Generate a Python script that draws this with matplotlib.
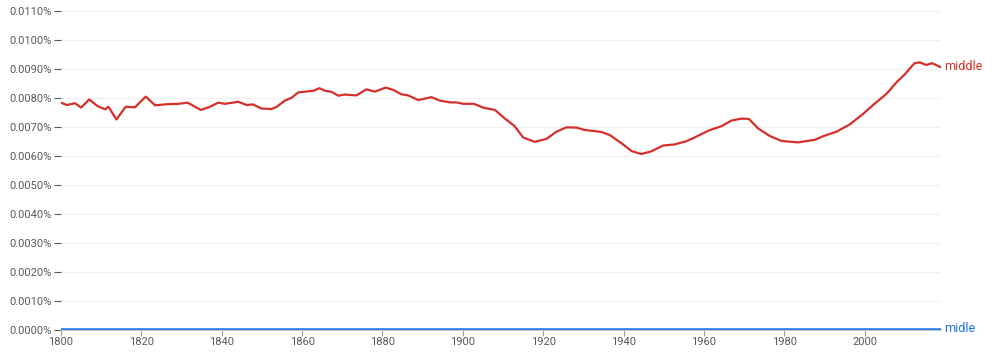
import matplotlib
matplotlib.use("Agg")
import matplotlib.pyplot as plt
from matplotlib.ticker import FuncFormatter, FixedLocator

plt.rcParams['font.family'] = ['Roboto', 'DejaVu Sans']

# Data (values in percent)
middle_years = [1800, 1801.4, 1803.5, 1805, 1807, 1809.1, 1811, 1811.8, 1813.8, 1816.1,
                1818.4, 1821.1, 1823.4, 1826.7, 1829.2, 1831.5, 1834.8, 1837.1, 1839.1,
                1840.8, 1844.1, 1846.2, 1847.8, 1849.8, 1852.4, 1853.7, 1855.7, 1857.4,
                1859, 1860.7, 1862.8, 1864.3, 1865.7, 1867.4, 1869, 1870.6, 1873.5, 1876,
                1878.1, 1880.8, 1882.7, 1884.7, 1886.4, 1888.9, 1892.2, 1894.3, 1896.8,
                1898.4, 1900.1, 1902.7, 1905.3, 1908, 1910.4, 1912.9, 1915, 1917.9,
                1920.8, 1923.3, 1925.8, 1928.3, 1930.3, 1934.5, 1936.6, 1939.5, 1942,
                1944.4, 1946.9, 1949.8, 1952.7, 1955.6, 1957.7, 1960, 1961.4, 1964.4,
                1966.8, 1969.3, 1971.2, 1973.5, 1976.4, 1979.3, 1983.4, 1987.6, 1990,
                1993, 1996.3, 1999.6, 2002.1, 2005.4, 2007.9, 2010, 2012.4, 2013.7,
                2015.3, 2016.8, 2018.7, 2019]
middle_vals = [0.00784, 0.00776, 0.00782, 0.00767, 0.00795, 0.00772, 0.00761, 0.00770,
               0.00726, 0.00770, 0.00768, 0.00805, 0.00775, 0.00779, 0.00780, 0.00784,
               0.00759, 0.00770, 0.00784, 0.00780, 0.00787, 0.00776, 0.00778, 0.00764,
               0.00762, 0.00770, 0.00791, 0.00801, 0.00819, 0.00822, 0.00825, 0.00834,
               0.00825, 0.00821, 0.00808, 0.00812, 0.00809, 0.00830, 0.00822, 0.00836,
               0.00828, 0.00813, 0.00809, 0.00793, 0.00803, 0.00791, 0.00785, 0.00785,
               0.00780, 0.00780, 0.00766, 0.00759, 0.00730, 0.00703, 0.00664, 0.00649,
               0.00659, 0.00684, 0.00699, 0.00698, 0.00690, 0.00683, 0.00672, 0.00644,
               0.00617, 0.00607, 0.00616, 0.00636, 0.00640, 0.00651, 0.00664, 0.00680,
               0.00689, 0.00703, 0.00722, 0.00729, 0.00728, 0.00695, 0.00669, 0.00652,
               0.00647, 0.00656, 0.00670, 0.00684, 0.00709, 0.00745, 0.00776, 0.00814,
               0.00854, 0.00882, 0.00920, 0.00923, 0.00914, 0.00920, 0.00908, 0.00906]

midle_years = [1800, 1850, 1900, 1950, 2000, 2019]
midle_vals = [0.00002, 0.00002, 0.00002, 0.00002, 0.00002, 0.00002]

red = '#d62f2a'
blue = '#1a73e8'
grey = '#555a60'

fig = plt.figure(figsize=(10, 3.56), dpi=100)
ax = fig.add_axes([0.061, 0.073, 0.880, 0.896])

ax.plot(middle_years, middle_vals, color=red, lw=1.6, solid_joinstyle='round',
        solid_capstyle='round')
ax.plot(midle_years, midle_vals, color=blue, lw=1.8)

ax.set_xlim(1800, 2019)
ax.set_ylim(0, 0.011)

yt = [i * 0.001 for i in range(12)]
ax.yaxis.set_major_locator(FixedLocator(yt))
ax.yaxis.set_major_formatter(FuncFormatter(lambda v, p: f"{v:.4f}%"))
ax.xaxis.set_major_locator(FixedLocator(list(range(1800, 2020, 20))))

ax.grid(axis='y', color='#efefef', lw=0.8)
ax.set_axisbelow(True)
for s in ['top', 'right', 'left']:
    ax.spines[s].set_visible(False)
ax.spines['bottom'].set_color('#cccccc')

ax.tick_params(axis='y', length=5, width=0.8, color=grey, labelcolor=grey,
               labelsize=8, pad=2)
ax.tick_params(axis='x', length=4, width=0.8, color='#999999', labelcolor=grey,
               labelsize=8, pad=1)

ax.text(1.003, (0.00906) / 0.011 + 0.004, 'middle', transform=ax.transAxes, color=red,
        fontsize=9, va='center', ha='left')
ax.text(1.003, 0.00002 / 0.011 + 0.002, 'midle', transform=ax.transAxes, color=blue,
        fontsize=9, va='center', ha='left')

fig.savefig('out.png', dpi=100)
